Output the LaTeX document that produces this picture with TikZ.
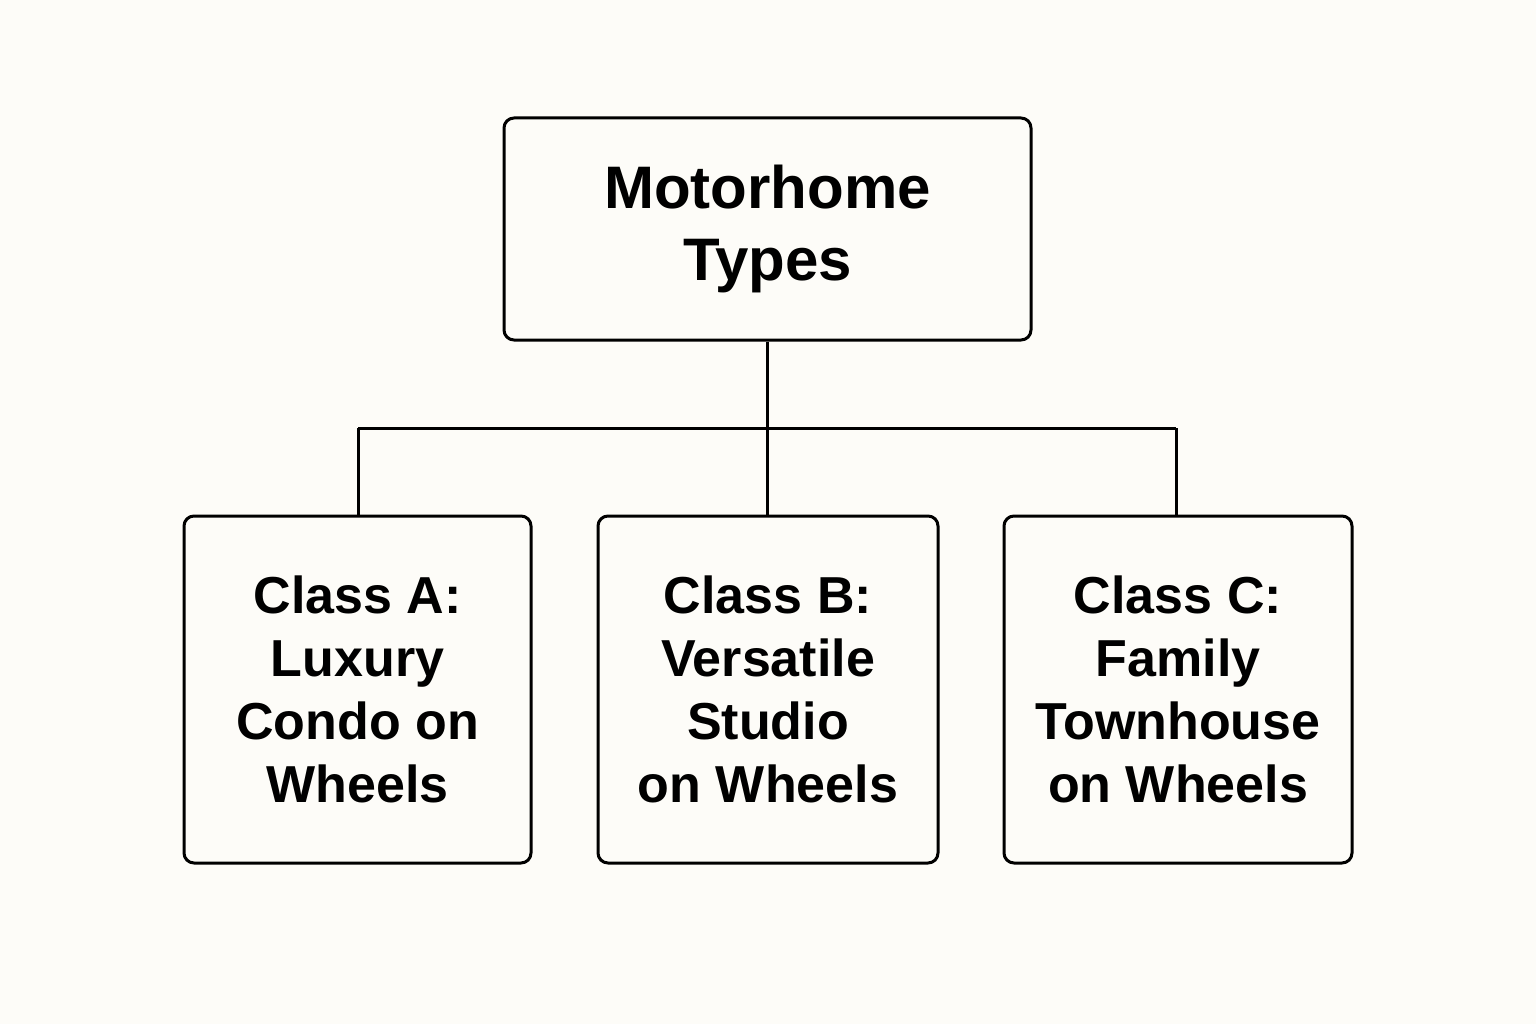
\documentclass[tikz,border=0pt]{standalone}
\usepackage{fontspec}
\setmainfont{Liberation Sans}
\usetikzlibrary{positioning}
\definecolor{paper}{HTML}{FDFCF8}

\tikzset{
	box/.style={draw, line width=3pt, rounded corners=10pt, align=center, font=\bfseries},
	link/.style={line width=3pt}
}

\begin{document}
\begin{tikzpicture}[x=1pt, y=-1pt]

	\fill[paper] (0,0) rectangle (1536,1024);
	\useasboundingbox (0,0) rectangle (1536,1024);

	\node (top) [box, minimum width=527pt, minimum height=222pt, font=\bfseries\fontsize{60}{72}\selectfont] at (767.5,229) {Motorhome\\Types};

	\node (ca) [box, minimum width=347pt, minimum height=347pt, font=\bfseries\fontsize{52}{63}\selectfont] at (357.5,689.5) {Class A:\\Luxury\\Condo on\\Wheels};
	\node (cb) [box, minimum width=340pt, minimum height=347pt, font=\bfseries\fontsize{52}{63}\selectfont] at (768,689.5) {Class B:\\Versatile\\Studio\\on Wheels};
	\node (cc) [box, minimum width=348pt, minimum height=347pt, font=\bfseries\fontsize{52}{63}\selectfont] at (1178,689.5) {Class C:\\Family\\Townhouse\\on Wheels};

	\coordinate (j) at (767.5,428);
	\coordinate (ja) at (358,428);
	\coordinate (jc) at (1176,428);

	\draw[link] (top.south) -- (j);
	\draw[link] (ja) -- (jc);
	\draw[link] (ja) -- (ja |- ca.north);
	\draw[link] (j) -- (j |- cb.north);
	\draw[link] (jc) -- (jc |- cc.north);

\end{tikzpicture}
\end{document}
